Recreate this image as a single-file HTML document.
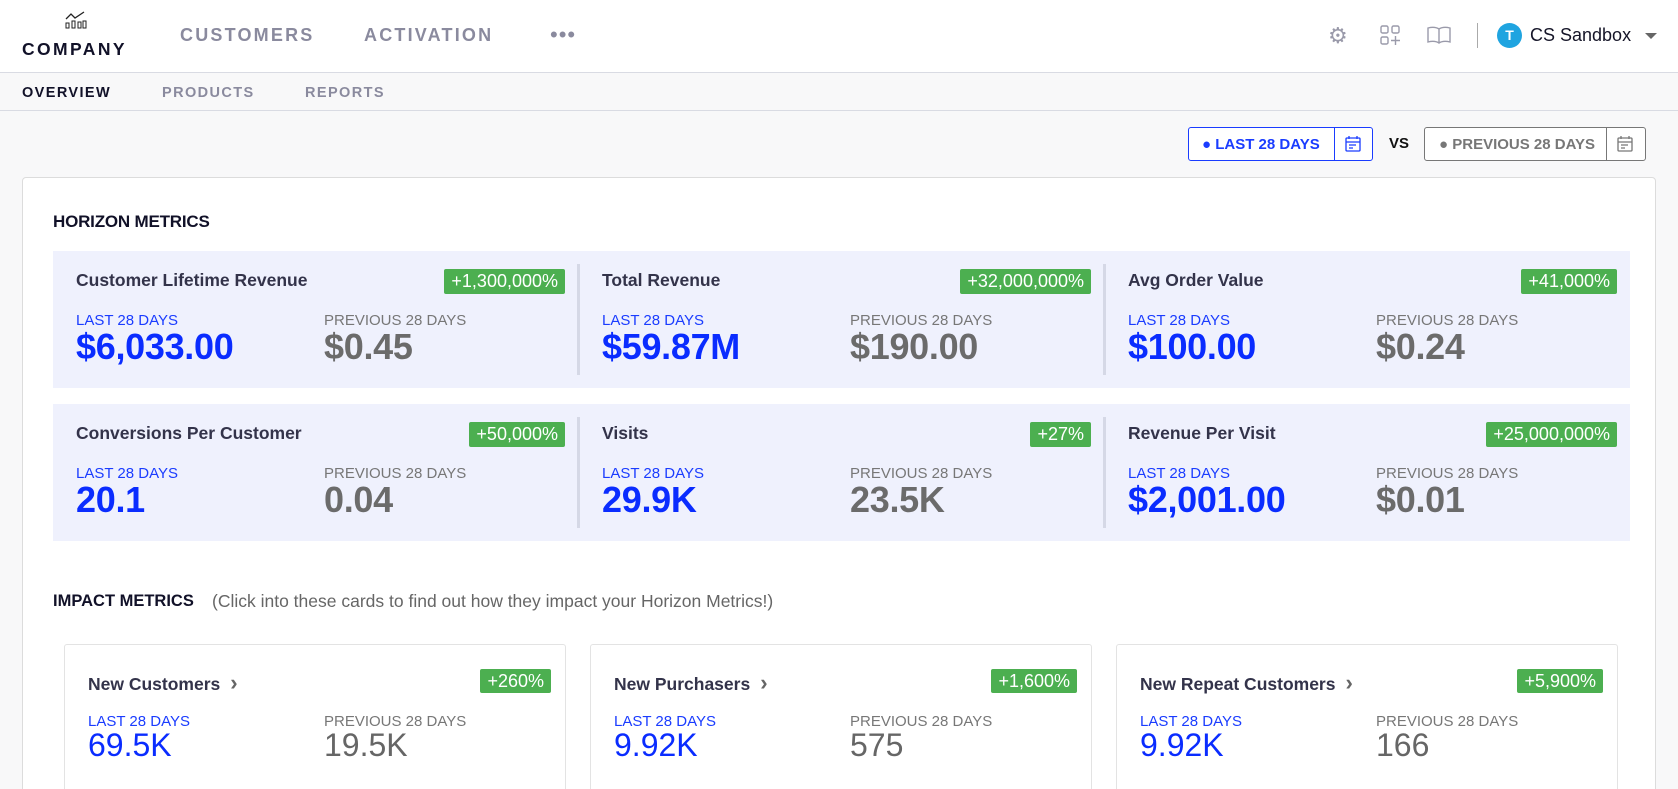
<!DOCTYPE html>
<html><head><meta charset="utf-8"><style>
*{box-sizing:border-box;margin:0;padding:0}
html{width:1678px;height:789px;overflow:hidden}
body{width:1678px;height:789px;overflow:hidden;background:#f8f8f9;font-family:"Liberation Sans",sans-serif;position:relative}
.a{position:absolute;white-space:nowrap}
.hdr{position:absolute;left:0;top:0;width:1678px;height:73px;background:#fff;border-bottom:1px solid #d9dbe3}
.sub{position:absolute;left:0;top:73px;width:1678px;height:38px;background:#f8f8f9;border-bottom:1px solid #d9dbe3}
.nav{font-size:18px;color:#8a8a9e;letter-spacing:2.2px;font-weight:bold}
.snav{font-size:14.5px;color:#8a8a9e;letter-spacing:1.4px;font-weight:bold}
.card{position:absolute;left:22px;top:177px;width:1634px;height:620px;background:#fff;border:1px solid #dcdcdc;border-radius:4px}
.panel{position:absolute;left:53px;width:1577px;height:137px;background:#eff1fd}
.vd{position:absolute;width:3px;background:#d5d8e6;top:13px;height:111px}
.t{font-size:17.5px;font-weight:bold;color:#33334a}
.badge{position:absolute;height:25px;background:#4caf50;color:#fff;font-size:18px;line-height:25px;padding:0 7px;border-radius:2px}
.ll{font-size:15px;color:#1a3cff}
.pl{font-size:15px;color:#777}
.bv{font-size:36px;font-weight:bold;color:#0a2cff;letter-spacing:-0.3px}
.pv{font-size:36px;font-weight:bold;color:#6b6b6b;letter-spacing:-0.3px}
.ic{position:absolute;top:644px;width:502px;height:160px;background:#fff;border:1px solid #e3e3e3;border-radius:3px}
.bvn{font-size:32px;color:#0a2cff}
.pvn{font-size:32px;color:#666}
</style></head><body>
<div class="hdr"></div>
<svg class="a" style="left:64px;top:11px" width="24" height="18"><polyline points="2,8 7,3 11,7 20,1" fill="none" stroke="#222" stroke-width="1.3"/><rect x="2" y="12" width="3" height="5" fill="none" stroke="#222"/><rect x="8" y="10" width="3" height="7" fill="none" stroke="#222"/><rect x="14" y="11" width="3" height="6" fill="none" stroke="#222"/><rect x="19" y="10" width="3" height="7" fill="none" stroke="#222"/></svg>
<div class="a" style="left:22px;top:39px;font-size:17.5px;font-weight:bold;letter-spacing:2.4px;color:#111128">COMPANY</div>
<div class="a nav" style="left:180px;top:25px">CUSTOMERS</div>
<div class="a nav" style="left:364px;top:25px">ACTIVATION</div>
<div class="a" style="left:550px;top:22px;font-size:22px;color:#8a8a9e;letter-spacing:1px">&#8226;&#8226;&#8226;</div>
<div class="a" style="left:1328px;top:23px;font-size:22px;color:#9a9aaa">&#9881;</div>
<svg class="a" style="left:1380px;top:25px" width="20" height="20"><rect x="1" y="1" width="7" height="7" rx="1.5" fill="none" stroke="#9a9aaa" stroke-width="1.4"/><rect x="12" y="1" width="7" height="7" rx="1.5" fill="none" stroke="#9a9aaa" stroke-width="1.4"/><rect x="1" y="12" width="7" height="7" rx="1.5" fill="none" stroke="#9a9aaa" stroke-width="1.4"/><path d="M15.5 11v9M11 15.5h9" stroke="#9a9aaa" stroke-width="1.4"/></svg>
<svg class="a" style="left:1427px;top:26px" width="24" height="18"><path d="M12 3C9 1 5 1 1 2v14c4-1 8-1 11 1 3-2 7-2 11-1V2c-4-1-8-1-11 1zM12 3v14" fill="none" stroke="#9a9aaa" stroke-width="1.4"/></svg>
<div class="a" style="left:1477px;top:23px;width:1px;height:25px;background:#aaa"></div>
<div class="a" style="left:1497px;top:23px;width:25px;height:25px;border-radius:50%;background:#1fa4e0;color:#fff;font-size:14px;font-weight:bold;text-align:center;line-height:25px">T</div>
<div class="a" style="left:1530px;top:25px;font-size:18px;color:#151528">CS Sandbox</div>
<div class="a" style="left:1645px;top:33px;width:0;height:0;border-left:6px solid transparent;border-right:6px solid transparent;border-top:6px solid #666"></div>
<div class="sub"></div>
<div class="a snav" style="left:22px;top:85px;color:#111128">OVERVIEW</div>
<div class="a snav" style="left:162px;top:85px">PRODUCTS</div>
<div class="a snav" style="left:305px;top:85px">REPORTS</div>
<div class="a" style="left:1188px;top:127px;width:185px;height:34px;border:1px solid #1a3cff;border-radius:3px;background:#fff">
<div class="a" style="left:13px;top:8px;font-size:15px;font-weight:bold;color:#1a3cff">&#9679; LAST 28 DAYS</div>
<div class="a" style="left:145px;top:0;width:1px;height:32px;background:#1a3cff"></div>
<svg class="a" style="left:156px;top:8px" width="16" height="16"><rect x="1" y="2" width="14" height="13" rx="1" fill="none" stroke="#1a3cff" stroke-width="1.3"/><path d="M1 6h14M4 9h7M4 12h4M4 0v3M12 0v3" stroke="#1a3cff" stroke-width="1.3"/></svg></div>
<div class="a" style="left:1389px;top:135px;font-size:15px;font-weight:bold;color:#111">VS</div>
<div class="a" style="left:1424px;top:127px;width:222px;height:34px;border:1px solid #777;border-radius:3px;background:#fff">
<div class="a" style="left:14px;top:8px;font-size:15px;font-weight:bold;color:#777">&#9679; PREVIOUS 28 DAYS</div>
<div class="a" style="left:181px;top:0;width:1px;height:32px;background:#777"></div>
<svg class="a" style="left:192px;top:8px" width="16" height="16"><rect x="1" y="2" width="14" height="13" rx="1" fill="none" stroke="#777" stroke-width="1.3"/><path d="M1 6h14M4 9h7M4 12h4M4 0v3M12 0v3" stroke="#777" stroke-width="1.3"/></svg></div>
<div class="card"></div>
<div class="a" style="left:53px;top:212px;font-size:17px;font-weight:bold;color:#111128;letter-spacing:-0.2px">HORIZON METRICS</div>
<div class="panel" style="top:251px"><div class="vd" style="left:524px"></div><div class="vd" style="left:1050px"></div></div>
<div class="panel" style="top:404px"><div class="vd" style="left:524px"></div><div class="vd" style="left:1050px"></div></div>
<div class="a" style="left:53px;top:592px;font-size:16.5px;font-weight:bold;color:#111128">IMPACT METRICS</div>
<div class="a" style="left:212px;top:591px;font-size:17.5px;color:#666">(Click into these cards to find out how they impact your Horizon Metrics!)</div>
<script>
const hTitles=["Customer Lifetime Revenue","Total Revenue","Avg Order Value","Conversions Per Customer","Visits","Revenue Per Visit"];
const hBadges=["+1,300,000%","+32,000,000%","+41,000%","+50,000%","+27%","+25,000,000%"];
const hLast=["$6,033.00","$59.87M","$100.00","20.1","29.9K","$2,001.00"];
const hPrev=["$0.45","$190.00","$0.24","0.04","23.5K","$0.01"];
const iTitles=["New Customers","New Purchasers","New Repeat Customers"];
const iBadges=["+260%","+1,600%","+5,900%"];
const iLast=["69.5K","9.92K","9.92K"];
const iPrev=["19.5K","575","166"];
function mk(cls,css,txt,parent){const d=document.createElement('div');d.className='a '+cls;d.style.cssText=css;d.textContent=txt;(parent||document.body).appendChild(d);return d;}
hTitles.forEach((t,i)=>{
 const x=76+(i%3)*526, y=(i<3?0:153);
 const w=document.createElement('div');w.className='a';w.style.cssText=`left:${x-23}px;top:${251+y}px;width:520px;height:137px`;
 
 
 document.body.appendChild(w);
 let e=mk('t',`left:${x}px;top:${270+y}px`,t);
 
 
 const b=document.createElement('div');b.className='badge';b.textContent=hBadges[i];b.style.cssText=`right:${1678-(x+489)}px;top:${269+y}px`;
 
 
 document.body.appendChild(b);
 e=mk('ll',`left:${x}px;top:${312+y}px`,'LAST 28 DAYS');
 
 
 e=mk('pl',`left:${x+248}px;top:${312+y}px`,'PREVIOUS 28 DAYS');
 
 
 e=mk('bv',`left:${x}px;top:${326+y}px`,hLast[i]);
 
 
 e=mk('pv',`left:${x+248}px;top:${326+y}px`,hPrev[i]);
 
 
});
iTitles.forEach((t,i)=>{
 const cx=64+i*526;
 const c=document.createElement('div');c.className='ic';c.style.left=cx+'px';
 
 
 document.body.appendChild(c);
 const x=cx+24;
 let e=mk('t',`left:${x}px;top:${670}px`,t);
 
 
 const ch=document.createElement('span');ch.textContent='›';ch.style.cssText='color:#666;font-size:22px;font-weight:bold;margin-left:10px';e.appendChild(ch);
 const b=document.createElement('div');b.className='badge';b.textContent=iBadges[i];b.style.cssText=`right:${1678-(cx+487)}px;top:669px;height:24px;line-height:24px`;
 
 
 document.body.appendChild(b);
 e=mk('ll',`left:${x}px;top:713px`,'LAST 28 DAYS');
 
 
 e=mk('pl',`left:${x+236}px;top:713px`,'PREVIOUS 28 DAYS');
 
 
 e=mk('bvn',`left:${x}px;top:727px`,iLast[i]);
 
 
 e=mk('pvn',`left:${x+236}px;top:727px`,iPrev[i]);
 
 
});
</script>
</body></html>
